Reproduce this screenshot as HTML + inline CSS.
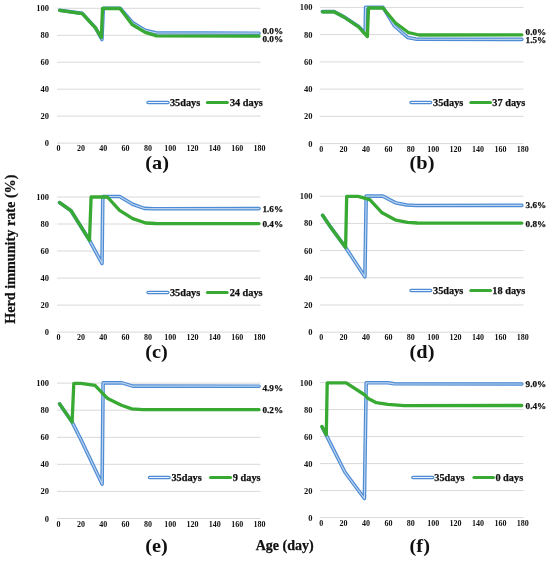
<!DOCTYPE html>
<html><head><meta charset="utf-8"><style>
html,body{margin:0;padding:0;background:#fff;width:550px;height:561px;overflow:hidden}
svg{display:block;will-change:transform}
text{font-family:"Liberation Serif",serif;font-weight:bold;fill:#111;stroke:#111;stroke-width:0.25px}
.yl{font-size:8.5px;text-anchor:end;stroke-width:0}
.xl{font-size:8px;text-anchor:middle;stroke-width:0}
.pc{font-size:9.2px}
.lg{font-size:10.3px}
.lt{font-size:18.5px;stroke-width:0}
.at{font-size:14.2px}
.at2{font-size:14px}
</style></head><body>
<svg width="550" height="561" viewBox="0 0 550 561">
<rect width="550" height="561" fill="#fff"/>
<line x1="57.0" y1="143.1" x2="260.5" y2="143.1" stroke="#d9d9d9" stroke-width="1"/>
<text x="49.0" y="146.1" class="yl">0</text>
<line x1="57.0" y1="116.1" x2="260.5" y2="116.1" stroke="#d9d9d9" stroke-width="1"/>
<text x="49.0" y="119.1" class="yl">20</text>
<line x1="57.0" y1="89.2" x2="260.5" y2="89.2" stroke="#d9d9d9" stroke-width="1"/>
<text x="49.0" y="92.2" class="yl">40</text>
<line x1="57.0" y1="62.2" x2="260.5" y2="62.2" stroke="#d9d9d9" stroke-width="1"/>
<text x="49.0" y="65.2" class="yl">60</text>
<line x1="57.0" y1="35.3" x2="260.5" y2="35.3" stroke="#d9d9d9" stroke-width="1"/>
<text x="49.0" y="38.3" class="yl">80</text>
<line x1="57.0" y1="8.3" x2="260.5" y2="8.3" stroke="#d9d9d9" stroke-width="1"/>
<text x="49.0" y="11.3" class="yl">100</text>
<text x="58.6" y="151.2" class="xl">0</text>
<text x="80.9" y="151.2" class="xl">20</text>
<text x="103.2" y="151.2" class="xl">40</text>
<text x="125.6" y="151.2" class="xl">60</text>
<text x="147.9" y="151.2" class="xl">80</text>
<text x="170.2" y="151.2" class="xl">100</text>
<text x="192.5" y="151.2" class="xl">120</text>
<text x="214.8" y="151.2" class="xl">140</text>
<text x="237.2" y="151.2" class="xl">160</text>
<text x="259.5" y="151.2" class="xl">180</text>
<polyline points="59.7,10.2 82.3,13.4 95.4,27.6 101.9,39.5 103.3,8.3 120.1,8.3 132.9,22.9 145.2,30.3 155.8,32.8 259.0,33.2" fill="none" stroke="#4d8cd4" stroke-width="3.6" stroke-linejoin="round" stroke-linecap="round"/>
<polyline points="59.7,10.2 82.3,13.4 95.4,27.6 101.9,39.5 103.3,8.3 120.1,8.3 132.9,22.9 145.2,30.3 155.8,32.8 259.0,33.2" fill="none" stroke="#bcd3ee" stroke-width="1.2" stroke-linejoin="round" stroke-linecap="round"/>
<polyline points="59.7,10.4 82.3,13.6 95.4,27.8 101.4,37.6 102.5,8.5 120.1,8.5 132.1,24.5 145.2,32.3 156.6,35.8 259.0,36.2" fill="none" stroke="#38a932" stroke-width="3.3" stroke-linejoin="round" stroke-linecap="round"/>
<text x="262.4" y="34.4" class="pc">0.0%</text>
<text x="262.4" y="41.5" class="pc">0.0%</text>
<line x1="148" y1="102.5" x2="168" y2="102.5" stroke="#4d8cd4" stroke-width="3.4" stroke-linecap="round"/>
<line x1="148" y1="102.5" x2="168" y2="102.5" stroke="#eef4fb" stroke-width="1.0" stroke-linecap="round"/>
<text x="169.9" y="105.9" class="lg">35days</text>
<line x1="207.4" y1="102.5" x2="227.3" y2="102.5" stroke="#38a932" stroke-width="3.2" stroke-linecap="round"/>
<text x="229.9" y="105.9" class="lg">34 days</text>
<g transform="translate(145.3,168.9) scale(1.1,1)"><text x="0" y="0" class="lt">(a)</text></g>
<line x1="320.0" y1="143.6" x2="523.5" y2="143.6" stroke="#d9d9d9" stroke-width="1"/>
<text x="312.5" y="146.6" class="yl">0</text>
<line x1="320.0" y1="116.4" x2="523.5" y2="116.4" stroke="#d9d9d9" stroke-width="1"/>
<text x="312.5" y="119.4" class="yl">20</text>
<line x1="320.0" y1="89.1" x2="523.5" y2="89.1" stroke="#d9d9d9" stroke-width="1"/>
<text x="312.5" y="92.1" class="yl">40</text>
<line x1="320.0" y1="61.9" x2="523.5" y2="61.9" stroke="#d9d9d9" stroke-width="1"/>
<text x="312.5" y="64.9" class="yl">60</text>
<line x1="320.0" y1="34.6" x2="523.5" y2="34.6" stroke="#d9d9d9" stroke-width="1"/>
<text x="312.5" y="37.6" class="yl">80</text>
<line x1="320.0" y1="7.4" x2="523.5" y2="7.4" stroke="#d9d9d9" stroke-width="1"/>
<text x="312.5" y="10.4" class="yl">100</text>
<text x="321.2" y="151.7" class="xl">0</text>
<text x="343.6" y="151.7" class="xl">20</text>
<text x="366.0" y="151.7" class="xl">40</text>
<text x="388.4" y="151.7" class="xl">60</text>
<text x="410.8" y="151.7" class="xl">80</text>
<text x="433.2" y="151.7" class="xl">100</text>
<text x="455.6" y="151.7" class="xl">120</text>
<text x="478.0" y="151.7" class="xl">140</text>
<text x="500.4" y="151.7" class="xl">160</text>
<text x="522.8" y="151.7" class="xl">180</text>
<polyline points="322.4,11.6 334.1,11.6 343.9,16.8 358.6,26.6 365.2,33.3 365.6,7.4 383.0,7.4 394.5,26.0 407.6,37.4 415.7,39.1 521.8,39.4" fill="none" stroke="#4d8cd4" stroke-width="3.6" stroke-linejoin="round" stroke-linecap="round"/>
<polyline points="322.4,11.6 334.1,11.6 343.9,16.8 358.6,26.6 365.2,33.3 365.6,7.4 383.0,7.4 394.5,26.0 407.6,37.4 415.7,39.1 521.8,39.4" fill="none" stroke="#bcd3ee" stroke-width="1.2" stroke-linejoin="round" stroke-linecap="round"/>
<polyline points="322.4,11.8 334.1,11.8 343.9,17.0 358.6,26.8 367.4,36.6 368.5,8.0 383.0,8.0 395.3,22.7 408.4,32.5 419.0,35.0 521.8,34.8" fill="none" stroke="#38a932" stroke-width="3.3" stroke-linejoin="round" stroke-linecap="round"/>
<text x="525.6" y="35.4" class="pc">0.0%</text>
<text x="525.6" y="42.7" class="pc">1.5%</text>
<line x1="411" y1="102.5" x2="430.6" y2="102.5" stroke="#4d8cd4" stroke-width="3.4" stroke-linecap="round"/>
<line x1="411" y1="102.5" x2="430.6" y2="102.5" stroke="#eef4fb" stroke-width="1.0" stroke-linecap="round"/>
<text x="433" y="105.9" class="lg">35days</text>
<line x1="470.9" y1="102.5" x2="490.5" y2="102.5" stroke="#38a932" stroke-width="3.2" stroke-linecap="round"/>
<text x="492.3" y="105.9" class="lg">37 days</text>
<g transform="translate(409.6,169.4) scale(1.1,1)"><text x="0" y="0" class="lt">(b)</text></g>
<line x1="57.0" y1="332.1" x2="260.5" y2="332.1" stroke="#d9d9d9" stroke-width="1"/>
<text x="49.0" y="335.1" class="yl">0</text>
<line x1="57.0" y1="305.1" x2="260.5" y2="305.1" stroke="#d9d9d9" stroke-width="1"/>
<text x="49.0" y="308.1" class="yl">20</text>
<line x1="57.0" y1="278.1" x2="260.5" y2="278.1" stroke="#d9d9d9" stroke-width="1"/>
<text x="49.0" y="281.1" class="yl">40</text>
<line x1="57.0" y1="251.0" x2="260.5" y2="251.0" stroke="#d9d9d9" stroke-width="1"/>
<text x="49.0" y="254.0" class="yl">60</text>
<line x1="57.0" y1="224.0" x2="260.5" y2="224.0" stroke="#d9d9d9" stroke-width="1"/>
<text x="49.0" y="227.0" class="yl">80</text>
<line x1="57.0" y1="197.0" x2="260.5" y2="197.0" stroke="#d9d9d9" stroke-width="1"/>
<text x="49.0" y="200.0" class="yl">100</text>
<text x="58.6" y="340.2" class="xl">0</text>
<text x="80.9" y="340.2" class="xl">20</text>
<text x="103.2" y="340.2" class="xl">40</text>
<text x="125.6" y="340.2" class="xl">60</text>
<text x="147.9" y="340.2" class="xl">80</text>
<text x="170.2" y="340.2" class="xl">100</text>
<text x="192.5" y="340.2" class="xl">120</text>
<text x="214.8" y="340.2" class="xl">140</text>
<text x="237.2" y="340.2" class="xl">160</text>
<text x="259.5" y="340.2" class="xl">180</text>
<polyline points="59.6,202.6 71.0,210.7 89.5,240.3 102.0,263.5 102.8,196.5 119.6,196.5 132.7,204.3 144.2,208.4 154.0,208.7 259.0,208.6" fill="none" stroke="#4d8cd4" stroke-width="3.6" stroke-linejoin="round" stroke-linecap="round"/>
<polyline points="59.6,202.6 71.0,210.7 89.5,240.3 102.0,263.5 102.8,196.5 119.6,196.5 132.7,204.3 144.2,208.4 154.0,208.7 259.0,208.6" fill="none" stroke="#bcd3ee" stroke-width="1.2" stroke-linejoin="round" stroke-linecap="round"/>
<polyline points="59.6,202.6 71.0,210.7 89.5,240.3 91.1,197.0 107.4,197.0 119.6,210.4 132.7,218.6 145.8,223.0 155.6,223.5 259.0,223.6" fill="none" stroke="#38a932" stroke-width="3.3" stroke-linejoin="round" stroke-linecap="round"/>
<text x="262.4" y="212.1" class="pc">1.6%</text>
<text x="262.4" y="227.1" class="pc">0.4%</text>
<line x1="148.1" y1="292.5" x2="167.8" y2="292.5" stroke="#4d8cd4" stroke-width="3.4" stroke-linecap="round"/>
<line x1="148.1" y1="292.5" x2="167.8" y2="292.5" stroke="#eef4fb" stroke-width="1.0" stroke-linecap="round"/>
<text x="169.9" y="295.9" class="lg">35days</text>
<line x1="207.5" y1="292.5" x2="227.1" y2="292.5" stroke="#38a932" stroke-width="3.2" stroke-linecap="round"/>
<text x="229.7" y="295.9" class="lg">24 days</text>
<g transform="translate(145.3,357.9) scale(1.1,1)"><text x="0" y="0" class="lt">(c)</text></g>
<line x1="320.0" y1="332.2" x2="523.5" y2="332.2" stroke="#d9d9d9" stroke-width="1"/>
<text x="312.5" y="335.2" class="yl">0</text>
<line x1="320.0" y1="305.0" x2="523.5" y2="305.0" stroke="#d9d9d9" stroke-width="1"/>
<text x="312.5" y="308.0" class="yl">20</text>
<line x1="320.0" y1="277.8" x2="523.5" y2="277.8" stroke="#d9d9d9" stroke-width="1"/>
<text x="312.5" y="280.8" class="yl">40</text>
<line x1="320.0" y1="250.6" x2="523.5" y2="250.6" stroke="#d9d9d9" stroke-width="1"/>
<text x="312.5" y="253.6" class="yl">60</text>
<line x1="320.0" y1="223.4" x2="523.5" y2="223.4" stroke="#d9d9d9" stroke-width="1"/>
<text x="312.5" y="226.4" class="yl">80</text>
<line x1="320.0" y1="196.2" x2="523.5" y2="196.2" stroke="#d9d9d9" stroke-width="1"/>
<text x="312.5" y="199.2" class="yl">100</text>
<text x="321.2" y="340.3" class="xl">0</text>
<text x="343.6" y="340.3" class="xl">20</text>
<text x="366.0" y="340.3" class="xl">40</text>
<text x="388.4" y="340.3" class="xl">60</text>
<text x="410.8" y="340.3" class="xl">80</text>
<text x="433.2" y="340.3" class="xl">100</text>
<text x="455.6" y="340.3" class="xl">120</text>
<text x="478.0" y="340.3" class="xl">140</text>
<text x="500.4" y="340.3" class="xl">160</text>
<text x="522.8" y="340.3" class="xl">180</text>
<polyline points="322.6,215.3 330.5,226.9 345.6,247.4 364.9,276.8 366.2,196.1 382.9,196.1 395.2,202.7 406.6,205.0 416.5,205.5 521.8,205.4" fill="none" stroke="#4d8cd4" stroke-width="3.6" stroke-linejoin="round" stroke-linecap="round"/>
<polyline points="322.6,215.3 330.5,226.9 345.6,247.4 364.9,276.8 366.2,196.1 382.9,196.1 395.2,202.7 406.6,205.0 416.5,205.5 521.8,205.4" fill="none" stroke="#bcd3ee" stroke-width="1.2" stroke-linejoin="round" stroke-linecap="round"/>
<polyline points="322.6,215.3 330.5,226.9 345.6,247.4 346.7,196.4 358.1,196.4 369.8,199.7 382.1,212.8 396.0,220.2 407.5,222.3 417.3,223.0 521.8,223.1" fill="none" stroke="#38a932" stroke-width="3.3" stroke-linejoin="round" stroke-linecap="round"/>
<text x="525.6" y="208.4" class="pc">3.6%</text>
<text x="525.6" y="226.9" class="pc">0.8%</text>
<line x1="411" y1="290.5" x2="430.6" y2="290.5" stroke="#4d8cd4" stroke-width="3.4" stroke-linecap="round"/>
<line x1="411" y1="290.5" x2="430.6" y2="290.5" stroke="#eef4fb" stroke-width="1.0" stroke-linecap="round"/>
<text x="433" y="293.9" class="lg">35days</text>
<line x1="470.9" y1="290.5" x2="490.5" y2="290.5" stroke="#38a932" stroke-width="3.2" stroke-linecap="round"/>
<text x="492.3" y="293.9" class="lg">18 days</text>
<g transform="translate(409.6,358.0) scale(1.1,1)"><text x="0" y="0" class="lt">(d)</text></g>
<line x1="57.0" y1="518.5" x2="260.5" y2="518.5" stroke="#d9d9d9" stroke-width="1"/>
<text x="49.0" y="521.5" class="yl">0</text>
<line x1="57.0" y1="491.4" x2="260.5" y2="491.4" stroke="#d9d9d9" stroke-width="1"/>
<text x="49.0" y="494.4" class="yl">20</text>
<line x1="57.0" y1="464.3" x2="260.5" y2="464.3" stroke="#d9d9d9" stroke-width="1"/>
<text x="49.0" y="467.3" class="yl">40</text>
<line x1="57.0" y1="437.3" x2="260.5" y2="437.3" stroke="#d9d9d9" stroke-width="1"/>
<text x="49.0" y="440.3" class="yl">60</text>
<line x1="57.0" y1="410.2" x2="260.5" y2="410.2" stroke="#d9d9d9" stroke-width="1"/>
<text x="49.0" y="413.2" class="yl">80</text>
<line x1="57.0" y1="383.1" x2="260.5" y2="383.1" stroke="#d9d9d9" stroke-width="1"/>
<text x="49.0" y="386.1" class="yl">100</text>
<text x="58.6" y="526.6" class="xl">0</text>
<text x="80.9" y="526.6" class="xl">20</text>
<text x="103.2" y="526.6" class="xl">40</text>
<text x="125.6" y="526.6" class="xl">60</text>
<text x="147.9" y="526.6" class="xl">80</text>
<text x="170.2" y="526.6" class="xl">100</text>
<text x="192.5" y="526.6" class="xl">120</text>
<text x="214.8" y="526.6" class="xl">140</text>
<text x="237.2" y="526.6" class="xl">160</text>
<text x="259.5" y="526.6" class="xl">180</text>
<polyline points="59.6,403.9 72.1,422.1 82.8,443.4 102.1,484.1 103.1,382.9 122.1,382.9 132.7,386.1 259.0,386.2" fill="none" stroke="#4d8cd4" stroke-width="3.6" stroke-linejoin="round" stroke-linecap="round"/>
<polyline points="59.6,403.9 72.1,422.1 82.8,443.4 102.1,484.1 103.1,382.9 122.1,382.9 132.7,386.1 259.0,386.2" fill="none" stroke="#bcd3ee" stroke-width="1.2" stroke-linejoin="round" stroke-linecap="round"/>
<polyline points="59.6,403.9 72.1,422.1 73.8,383.3 80.7,383.3 95.0,385.3 107.7,398.6 121.4,405.3 131.9,408.9 142.6,409.7 259.0,409.7" fill="none" stroke="#38a932" stroke-width="3.3" stroke-linejoin="round" stroke-linecap="round"/>
<text x="262.4" y="390.6" class="pc">4.9%</text>
<text x="262.4" y="413.1" class="pc">0.2%</text>
<line x1="149.5" y1="477.5" x2="169.1" y2="477.5" stroke="#4d8cd4" stroke-width="3.4" stroke-linecap="round"/>
<line x1="149.5" y1="477.5" x2="169.1" y2="477.5" stroke="#eef4fb" stroke-width="1.0" stroke-linecap="round"/>
<text x="171.4" y="480.9" class="lg">35days</text>
<line x1="210.6" y1="477.5" x2="230.5" y2="477.5" stroke="#38a932" stroke-width="3.2" stroke-linecap="round"/>
<text x="232.8" y="480.9" class="lg">9 days</text>
<g transform="translate(145.3,551.6) scale(1.1,1)"><text x="0" y="0" class="lt">(e)</text></g>
<line x1="320.0" y1="517.6" x2="523.5" y2="517.6" stroke="#d9d9d9" stroke-width="1"/>
<text x="312.5" y="520.6" class="yl">0</text>
<line x1="320.0" y1="490.6" x2="523.5" y2="490.6" stroke="#d9d9d9" stroke-width="1"/>
<text x="312.5" y="493.6" class="yl">20</text>
<line x1="320.0" y1="463.6" x2="523.5" y2="463.6" stroke="#d9d9d9" stroke-width="1"/>
<text x="312.5" y="466.6" class="yl">40</text>
<line x1="320.0" y1="436.6" x2="523.5" y2="436.6" stroke="#d9d9d9" stroke-width="1"/>
<text x="312.5" y="439.6" class="yl">60</text>
<line x1="320.0" y1="409.6" x2="523.5" y2="409.6" stroke="#d9d9d9" stroke-width="1"/>
<text x="312.5" y="412.6" class="yl">80</text>
<line x1="320.0" y1="382.6" x2="523.5" y2="382.6" stroke="#d9d9d9" stroke-width="1"/>
<text x="312.5" y="385.6" class="yl">100</text>
<text x="321.2" y="525.7" class="xl">0</text>
<text x="343.6" y="525.7" class="xl">20</text>
<text x="366.0" y="525.7" class="xl">40</text>
<text x="388.4" y="525.7" class="xl">60</text>
<text x="410.8" y="525.7" class="xl">80</text>
<text x="433.2" y="525.7" class="xl">100</text>
<text x="455.6" y="525.7" class="xl">120</text>
<text x="478.0" y="525.7" class="xl">140</text>
<text x="500.4" y="525.7" class="xl">160</text>
<text x="522.8" y="525.7" class="xl">180</text>
<polyline points="322.2,427.1 326.0,434.6 333.7,449.9 345.0,472.3 364.4,498.5 366.2,382.8 387.8,382.8 394.4,383.8 521.8,384.0" fill="none" stroke="#4d8cd4" stroke-width="3.6" stroke-linejoin="round" stroke-linecap="round"/>
<polyline points="322.2,427.1 326.0,434.6 333.7,449.9 345.0,472.3 364.4,498.5 366.2,382.8 387.8,382.8 394.4,383.8 521.8,384.0" fill="none" stroke="#bcd3ee" stroke-width="1.2" stroke-linejoin="round" stroke-linecap="round"/>
<polyline points="321.9,426.4 326.3,434.8 327.2,382.8 346.2,382.8 364.9,395.0 368.2,398.6 376.4,402.7 387.8,404.4 404.2,405.7 521.8,405.5" fill="none" stroke="#38a932" stroke-width="3.3" stroke-linejoin="round" stroke-linecap="round"/>
<text x="525.6" y="386.8" class="pc">9.0%</text>
<text x="525.6" y="408.6" class="pc">0.4%</text>
<line x1="412.9" y1="477.5" x2="432.7" y2="477.5" stroke="#4d8cd4" stroke-width="3.4" stroke-linecap="round"/>
<line x1="412.9" y1="477.5" x2="432.7" y2="477.5" stroke="#eef4fb" stroke-width="1.0" stroke-linecap="round"/>
<text x="434.3" y="480.9" class="lg">35days</text>
<line x1="474" y1="477.5" x2="493.4" y2="477.5" stroke="#38a932" stroke-width="3.2" stroke-linecap="round"/>
<text x="495.4" y="480.9" class="lg">0 days</text>
<g transform="translate(409.6,551.6) scale(1.1,1)"><text x="0" y="0" class="lt">(f)</text></g>
<text x="14.6" y="323.8" class="at" transform="rotate(-90 14.6 323.8)">Herd immunity rate (%)</text>
<text x="255.7" y="549.8" class="at2">Age (day)</text>
</svg>
</body></html>
